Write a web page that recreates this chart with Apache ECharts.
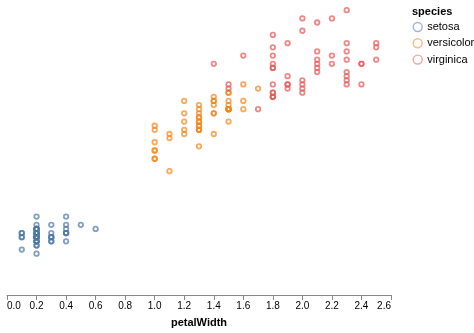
<!DOCTYPE html>
<html>
<head>
<meta charset="utf-8">
<script src="https://cdn.jsdelivr.net/npm/echarts@6/dist/echarts.min.js"></script>
<style>html,body{margin:0;padding:0;background:#fff}#c{width:474px;height:333px}</style>
</head>
<body>
<div id="c"></div>
<script>
var species = ['setosa', 'versicolor', 'virginica'];
var xTicks = [0,0.2,0.4,0.6,0.8,1.0,1.2,1.4,1.6,1.8,2.0,2.2,2.4,2.6];
var setosaWidth  = [0.2,0.2,0.2,0.2,0.2,0.4,0.3,0.2,0.2,0.1,0.2,0.2,0.1,0.1,0.2,0.4,0.4,0.3,0.3,0.3,0.2,0.4,0.2,0.5,0.2,0.2,0.4,0.2,0.2,0.2,0.2,0.4,0.1,0.2,0.2,0.2,0.2,0.1,0.2,0.2,0.3,0.3,0.2,0.6,0.4,0.3,0.2,0.2,0.2,0.2];
var setosaLength = [1.4,1.4,1.3,1.5,1.4,1.7,1.4,1.5,1.4,1.5,1.5,1.6,1.4,1.1,1.2,1.5,1.3,1.4,1.7,1.5,1.7,1.5,1.0,1.7,1.9,1.6,1.6,1.5,1.4,1.6,1.6,1.5,1.5,1.4,1.5,1.2,1.3,1.4,1.3,1.5,1.3,1.3,1.3,1.6,1.9,1.4,1.6,1.4,1.5,1.4];
var versicolorWidth  = [1.4,1.5,1.5,1.3,1.5,1.3,1.6,1.0,1.3,1.4,1.0,1.5,1.0,1.4,1.3,1.4,1.5,1.0,1.5,1.1,1.8,1.3,1.5,1.2,1.3,1.4,1.4,1.7,1.5,1.0,1.1,1.0,1.2,1.6,1.5,1.6,1.5,1.3,1.3,1.3,1.2,1.4,1.2,1.0,1.3,1.2,1.3,1.3,1.1,1.3];
var versicolorLength = [4.7,4.5,4.9,4.0,4.6,4.5,4.7,3.3,4.6,3.9,3.5,4.2,4.0,4.7,3.6,4.4,4.5,4.1,4.5,3.9,4.8,4.0,4.9,4.7,4.3,4.4,4.8,5.0,4.5,3.5,3.8,3.7,3.9,5.1,4.5,4.5,4.7,4.4,4.1,4.0,4.4,4.6,4.0,3.3,4.2,4.2,4.2,4.3,3.0,4.1];
var virginicaWidth  = [2.5,1.9,2.1,1.8,2.2,2.1,1.7,1.8,1.8,2.5,2.0,1.9,2.1,2.0,2.4,2.3,1.8,2.2,2.3,1.5,2.3,2.0,2.0,1.8,2.1,1.8,1.8,1.8,2.1,1.6,1.9,2.0,2.2,1.5,1.4,2.3,2.4,1.8,1.8,2.1,2.4,2.3,1.9,2.3,2.5,2.3,1.9,2.0,2.3,1.8];
var virginicaLength = [6.0,5.1,5.9,5.6,5.8,6.6,4.5,6.3,5.8,6.1,5.1,5.3,5.5,5.0,5.1,5.3,5.5,6.7,6.9,5.0,5.7,4.9,6.7,4.9,5.7,6.0,4.8,4.9,5.6,5.8,6.1,6.4,5.6,5.1,5.6,6.1,5.6,5.5,4.8,5.4,5.6,5.1,5.1,5.9,5.7,5.2,5.0,5.2,5.4,5.1];
var colors = ['#4c78a8', '#f58518', '#e45756'];

function pairs(w, l) { return w.map(function (v, i) { return [v, l[i]]; }); }
var groups = [pairs(setosaWidth, setosaLength), pairs(versicolorWidth, versicolorLength), pairs(virginicaWidth, virginicaLength)];

var chart = echarts.init(document.getElementById('c'), null, {renderer: 'canvas'});
var font = 'Liberation Sans, Arial, sans-serif';
chart.setOption({
  animation: false,
  grid: {left: 7, right: 83, top: 6, bottom: 37, containLabel: false},
  xAxis: {
    type: 'value', min: 0, max: 2.6, interval: 0.2,
    name: 'petalWidth', nameLocation: 'middle', nameGap: 22,
    nameTextStyle: {fontFamily: font, fontSize: 11, fontWeight: 'bold', color: '#000'},
    axisLine: {lineStyle: {color: '#888', width: 1}},
    axisTick: {show: true, length: 5, lineStyle: {color: '#888'}},
    axisLabel: {fontFamily: font, fontSize: 10, color: '#000', margin: 6,
      alignMinLabel: 'left', alignMaxLabel: 'right',
      formatter: function (v) { return v.toFixed(1); }},
    splitLine: {show: false}
  },
  yAxis: {type: 'value', min: 0, max: 7, show: false, splitLine: {show: false}},
  legend: {
    orient: 'vertical', left: 412.5, top: 21.5, itemGap: 5.3, itemWidth: 9, itemHeight: 9,
    icon: 'circle', data: species, padding: 0,
    itemStyle: {borderWidth: 1.4, opacity: 0.55},
    textStyle: {fontFamily: font, fontSize: 11, color: '#000', lineHeight: 10}
  },
  graphic: [{type: 'text', left: 412, top: 6,
    style: {text: 'species', font: 'bold 11px ' + font, fill: '#000'}}],
  series: species.map(function (s, i) {
    return {
      name: s, type: 'scatter', data: groups[i], symbol: 'circle', symbolSize: 4.5,
      itemStyle: {color: 'rgba(255,255,255,0)', borderColor: colors[i], borderWidth: 1.8, opacity: 0.7}
    };
  })
});
</script>
</body>
</html>
